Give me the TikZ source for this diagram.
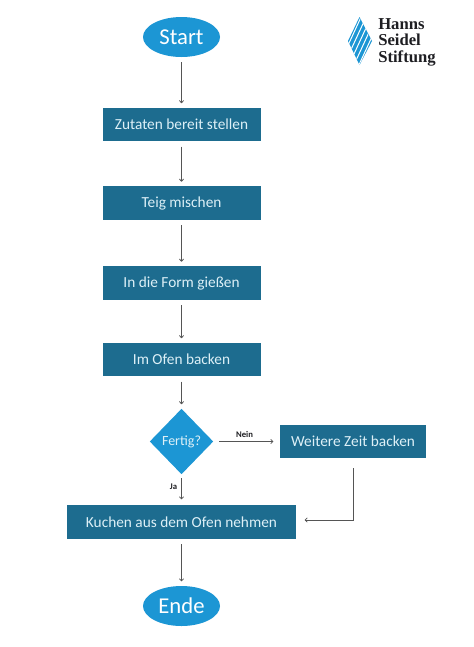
\documentclass[tikz,border=0pt]{standalone}
\usepackage{fontspec}
\setmainfont{Carlito}
\newfontfamily\logofont{Liberation Serif}
\usetikzlibrary{calc,arrows.meta,shapes.geometric}
\definecolor{petrol}{HTML}{1D6C8F}
\definecolor{himmel}{HTML}{1C96D4}
\definecolor{schrift}{HTML}{DDF0F7}
\definecolor{linie}{HTML}{555555}
\definecolor{logotext}{HTML}{1E1E22}
\begin{document}
\begin{tikzpicture}[x=0.75pt,y=-0.75pt,
    schritt/.style={draw=none, fill=petrol, text=schrift, minimum width=#1*0.75pt, minimum height=25pt, inner sep=0pt, outer sep=0pt, font=\fontsize{11.5}{13}\selectfont},
    endpunkt/.style={ellipse, fill=himmel, text=white, minimum width=57.75pt, minimum height=30pt, inner sep=0pt, outer sep=0pt, font=\fontsize{17}{20}\selectfont},
    frage/.style={diamond, fill=himmel, text=schrift, minimum width=47.5pt, minimum height=49pt, inner sep=0pt, outer sep=0pt, font=\fontsize{10.5}{12}\selectfont},
    pfeil/.style={-{To[length=2.2pt,width=3.6pt]}, line width=0.6pt, linie, shorten <=4pt, shorten >=3.5pt},
    marke/.style={font=\bfseries\fontsize{6.5}{7}\selectfont, text=logotext, inner sep=1.5pt},
    logozeile/.style={anchor=base west, inner sep=0pt, text=logotext, font=\logofont\bfseries\fontsize{12.5}{14}\selectfont}]
  \useasboundingbox (0,0) rectangle (474,647);
  \fill[white] (0,0) rectangle (474,647);
  \node[endpunkt] (start) at (181.5,37) {Start};
  \node[schritt=158] (zutaten) at (181.5,124.5) {Zutaten bereit stellen};
  \node[schritt=158] (teig) at (181.5,203) {Teig mischen};
  \node[schritt=158] (form) at (181.5,283) {In die Form gießen};
  \node[schritt=158] (ofen) at (181.5,359.5) {Im Ofen backen};
  \node[frage] (fertig) at (181.5,441.5) {Fertig?};
  \node[schritt=146] (zeit) at (353,441.5) {Weitere Zeit backen};
  \node[schritt=229] (kuchen) at (181.5,522) {Kuchen aus dem Ofen nehmen};
  \node[endpunkt] (ende) at (181.5,606) {Ende};
  \coordinate (einlauf) at (296,520);
  \draw[pfeil] (start) -- (zutaten);
  \draw[pfeil] (zutaten) -- (teig);
  \draw[pfeil] (teig) -- (form);
  \draw[pfeil] (form) -- (ofen);
  \draw[pfeil] (ofen) -- (fertig);
  \draw[pfeil, shorten <=4.5pt, shorten >=5pt] (fertig) -- node[marke, above, pos=0.47, yshift=1.5pt] (nein) {Nein} (zeit);
  \draw[pfeil, shorten <=3pt, shorten >=4.5pt] (fertig) -- node[marke, left, xshift=-1.5pt, yshift=2pt] (ja) {Ja} (kuchen);
  \draw[pfeil, shorten <=7.5pt, shorten >=6.5pt] (zeit.south) |- (einlauf);
  \draw[pfeil] (kuchen) -- (ende);
  % logo
  \begin{scope}
    \clip (348,41) -- (359.5,17) -- (372,41) -- (359.5,65) -- cycle;
    \fill[himmel] (340,10) rectangle (380,70);
    \foreach \v in {-10,-5,0,5,10} {
      \draw[white, line width=0.75pt] ($(360,41)+(\v,0)+(-12,26)$) -- ($(360,41)+(\v,0)+(12,-26)$);
    }
  \end{scope}
  \node[logozeile] (hanns) at (378,29.5) {Hanns};
  \node[logozeile] (seidel) at (378,45.5) {Seidel};
  \node[logozeile] (stiftung) at (378,62) {Stiftung};
\end{tikzpicture}
\end{document}
